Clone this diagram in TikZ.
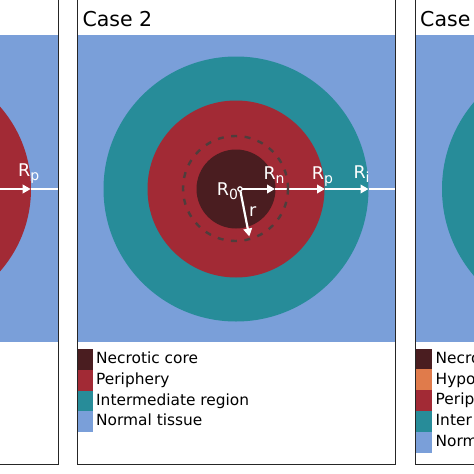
\documentclass[tikz,border=0pt]{standalone}
\usepackage{fontspec}
\setmainfont{DejaVu Sans}
\usetikzlibrary{arrows.meta}
\definecolor{normalc}{HTML}{7A9FD9}
\definecolor{interc}{HTML}{278C99}
\definecolor{peric}{HTML}{A22A35}
\definecolor{necroc}{HTML}{4A1D20}
\definecolor{hypoc}{HTML}{E07B4B}
\definecolor{dashc}{HTML}{4F3D3C}
\definecolor{framec}{HTML}{262626}
\newcommand{\Rsub}[1]{R\raisebox{-3.5pt}{\fontsize{14}{14}\selectfont #1}}
\begin{document}
\begin{tikzpicture}[x=1pt,y=-1pt,
  frameline/.style={draw=framec,line width=0.9pt},
  whiteline/.style={draw=white,line width=2.6pt},
  arr/.style={-{Triangle[length=8pt,width=8.5pt]}},
  lbl/.style={anchor=base west,text=white,font=\fontsize{17.5}{18}\selectfont,inner sep=0pt},
  legtext/.style={anchor=base west,font=\fontsize{15.4}{16}\selectfont,inner sep=0pt},
  titletext/.style={anchor=base west,font=\fontsize{20.5}{21}\selectfont,inner sep=0pt},
  swatch/.style={inner sep=0pt,minimum width=16pt,minimum height=20.8pt,anchor=north west}
]
\useasboundingbox (0,0) rectangle (474,474);
\fill[white] (0,0) rectangle (474,474);
\begin{scope}
\clip (0,0) rectangle (474,474);
% ---------- left panel (Case 1) ----------
\fill[normalc] (-260,35) rectangle (58.2,342);
\begin{scope}
  \clip (-260,35) rectangle (58.2,342);
  \fill[peric] (-94,189) circle[radius=125];
\end{scope}
\coordinate (Lc) at (-94,189);
\coordinate (Lp) at (30.7,189);
\coordinate (Le) at (58.2,189);
\draw[whiteline,arr] (Lc) -- (Lp);
\draw[whiteline] (Lp) -- (Le);
\node[lbl] (LRp) at (18,176.7) {\Rsub{p}};
\draw[frameline] (58.7,0) -- (58.7,464) -- (-2,464);
% ---------- middle panel (Case 2) ----------
\fill[normalc] (77,35) rectangle (395.7,342);
\fill[interc] (236,189) circle[radius=132.5];
\fill[peric] (236,189) circle[radius=88.5];
\fill[necroc] (236,189) circle[radius=39.5];
\coordinate (C0) at (240,189);
\coordinate (Cn) at (275,189);
\coordinate (Cp) at (325,189);
\coordinate (Ci) at (368.5,189);
\coordinate (Ce) at (395.5,189);
\coordinate (Cr) at (249.3,236.5);
\draw[whiteline,arr] (C0) -- (Cn);
\draw[whiteline,arr] (Cn) -- (Cp);
\draw[whiteline,arr] (Cp) -- (Ci);
\draw[whiteline] (Ci) -- (Ce);
\draw[whiteline,line width=2.2pt,arr] (C0) -- (Cr);
\draw[dashc,line width=2.4pt,dash pattern=on 6pt off 7.5pt] (235.5,188.5) circle[radius=52.5];
\filldraw[draw=white,fill=necroc,line width=1.2pt] (C0) circle[radius=2.2];
\node[lbl] (R0) at (216.7,195.5) {\Rsub{0}};
\node[lbl] (Rn) at (263.3,179.5) {\Rsub{n}};
\node[lbl] (Rp) at (311.7,179.5) {\Rsub{p}};
\node[lbl] (Ri) at (353.3,178.8) {\Rsub{i}};
\node[lbl] (rl) at (249,216.7) {r};
\node[titletext] (t2) at (82.3,26.7) {Case 2};
\node[swatch,fill=necroc] (s21) at (77,348.7) {};
\node[swatch,fill=peric]  (s22) at (77,369.5) {};
\node[swatch,fill=interc] (s23) at (77,390.3) {};
\node[swatch,fill=normalc] (s24) at (77,411.1) {};
\node[legtext] (l21) at (96,363.4) {Necrotic core};
\node[legtext] (l22) at (96,384.2) {Periphery};
\node[legtext] (l23) at (96,405.0) {Intermediate region};
\node[legtext] (l24) at (96,425.8) {Normal tissue};
\draw[frameline] (77,0) -- (77,464) -- (395.7,464) -- (395.7,0);
% ---------- right panel (Case 3) ----------
\fill[normalc] (415,35) rectangle (480,342);
\fill[interc] (576,189) circle[radius=134];
\node[titletext] (t3) at (420,26.7) {Case};
\node[swatch,fill=necroc] (s31) at (416,348.3) {};
\node[swatch,fill=hypoc]  (s32) at (416,369.1) {};
\node[swatch,fill=peric]  (s33) at (416,389.9) {};
\node[swatch,fill=interc] (s34) at (416,410.7) {};
\node[swatch,fill=normalc] (s35) at (416,431.5) {};
\node[legtext] (l31) at (435.5,363.2) {Necro};
\node[legtext] (l32) at (435.5,384.0) {Hypo};
\node[legtext] (l33) at (435.5,404.8) {Perip};
\node[legtext] (l34) at (435.5,425.6) {Inter};
\node[legtext] (l35) at (435.5,446.4) {Norm};
\draw[frameline] (476,464) -- (415,464) -- (415,0);
\end{scope}
\end{tikzpicture}
\end{document}
